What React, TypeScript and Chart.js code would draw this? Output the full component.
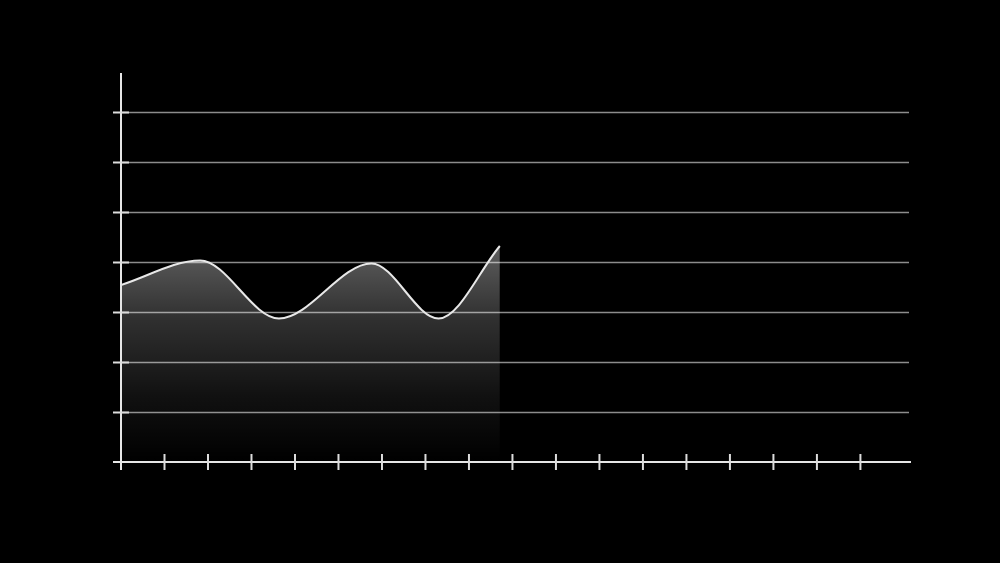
import React, { useEffect, useRef } from "react";
import { Chart, registerables } from "chart.js";

Chart.register(...registerables);

// Curve sample points (x in tick units, y in grid units)
const xs: number[] = [0, 1.82, 3.63, 5.76, 7.3, 8.71];
const ys: number[] = [3.54, 4.03, 2.87, 3.97, 2.87, 4.32];
const xTicks: number[] = [1, 2, 3, 4, 5, 6, 7, 8, 9, 10, 11, 12, 13, 14, 15, 16, 17];
const yTicks: number[] = [1, 2, 3, 4, 5, 6, 7];
const xMax = 18.14;
const yMax = 7.78;

const axesPlugin = {
  id: "customAxes",
  beforeDatasetsDraw(chart: any) {
    const { ctx, chartArea, scales } = chart;
    const y = scales.y;
    ctx.save();
    ctx.strokeStyle = "#8c8c8c";
    ctx.lineWidth = 1.5;
    yTicks.forEach((v) => {
      const py = Math.round(y.getPixelForValue(v)) + 0.5;
      ctx.beginPath();
      ctx.moveTo(chartArea.left, py);
      ctx.lineTo(chartArea.right - 1, py);
      ctx.stroke();
    });
    ctx.restore();
  },
  afterDraw(chart: any) {
    const { ctx, chartArea, scales } = chart;
    const x = scales.x;
    const y = scales.y;
    const x0 = x.getPixelForValue(0);
    const y0 = y.getPixelForValue(0);
    ctx.save();
    ctx.strokeStyle = "#e6e6e6";
    ctx.lineWidth = 2;
    ctx.beginPath();
    ctx.moveTo(x0, chartArea.top);
    ctx.lineTo(x0, y0 + 8);
    ctx.stroke();
    ctx.beginPath();
    ctx.moveTo(x0 - 8, y0);
    ctx.lineTo(chartArea.right + 1, y0);
    ctx.stroke();
    ctx.strokeStyle = "#dcdcdc";
    yTicks.forEach((v) => {
      const py = Math.round(y.getPixelForValue(v)) + 0.5;
      ctx.beginPath();
      ctx.moveTo(x0 - 8, py);
      ctx.lineTo(x0 + 8, py);
      ctx.stroke();
    });
    xTicks.forEach((v) => {
      const px = x.getPixelForValue(v);
      ctx.beginPath();
      ctx.moveTo(px, y0 - 8);
      ctx.lineTo(px, y0 + 8);
      ctx.stroke();
    });
    ctx.restore();
  },
};

export default function App() {
  const ref = useRef<HTMLCanvasElement | null>(null);

  useEffect(() => {
    document.body.style.margin = "0";
    document.body.style.background = "#000";
    const canvas = ref.current;
    if (!canvas) return;
    const data = xs.map((xv, i) => ({ x: xv, y: ys[i] }));
    const chart = new Chart(canvas, {
      type: "line",
      data: {
        datasets: [
          {
            data,
            borderColor: "#e8e8e8",
            borderWidth: 2,
            pointRadius: 0,
            cubicInterpolationMode: "monotone",
            fill: "origin",
            backgroundColor: (c: any) => {
              const { ctx, chartArea } = c.chart;
              if (!chartArea) return "rgba(255,255,255,0.2)";
              const yS = c.chart.scales.y;
              const g = ctx.createLinearGradient(0, yS.getPixelForValue(4.4), 0, yS.getPixelForValue(0));
              g.addColorStop(0, "rgba(255,255,255,0.38)");
              g.addColorStop(0.35, "rgba(255,255,255,0.19)");
              g.addColorStop(0.7, "rgba(255,255,255,0.065)");
              g.addColorStop(1, "rgba(255,255,255,0.0)");
              return g;
            },
          },
        ],
      },
      options: {
        animation: false,
        responsive: false,
        devicePixelRatio: 1,
        layout: { padding: { left: 121, top: 73, right: 90, bottom: 101 } },
        plugins: { legend: { display: false }, tooltip: { enabled: false } },
        scales: {
          x: { type: "linear", min: 0, max: xMax, display: false },
          y: { type: "linear", min: 0, max: yMax, display: false },
        },
      },
      plugins: [axesPlugin],
    });
    return () => chart.destroy();
  }, []);

  return (
    <div style={{ width: 1000, height: 563, background: "#000" }}>
      <canvas ref={ref} width={1000} height={563} style={{ display: "block" }} />
    </div>
  );
}
